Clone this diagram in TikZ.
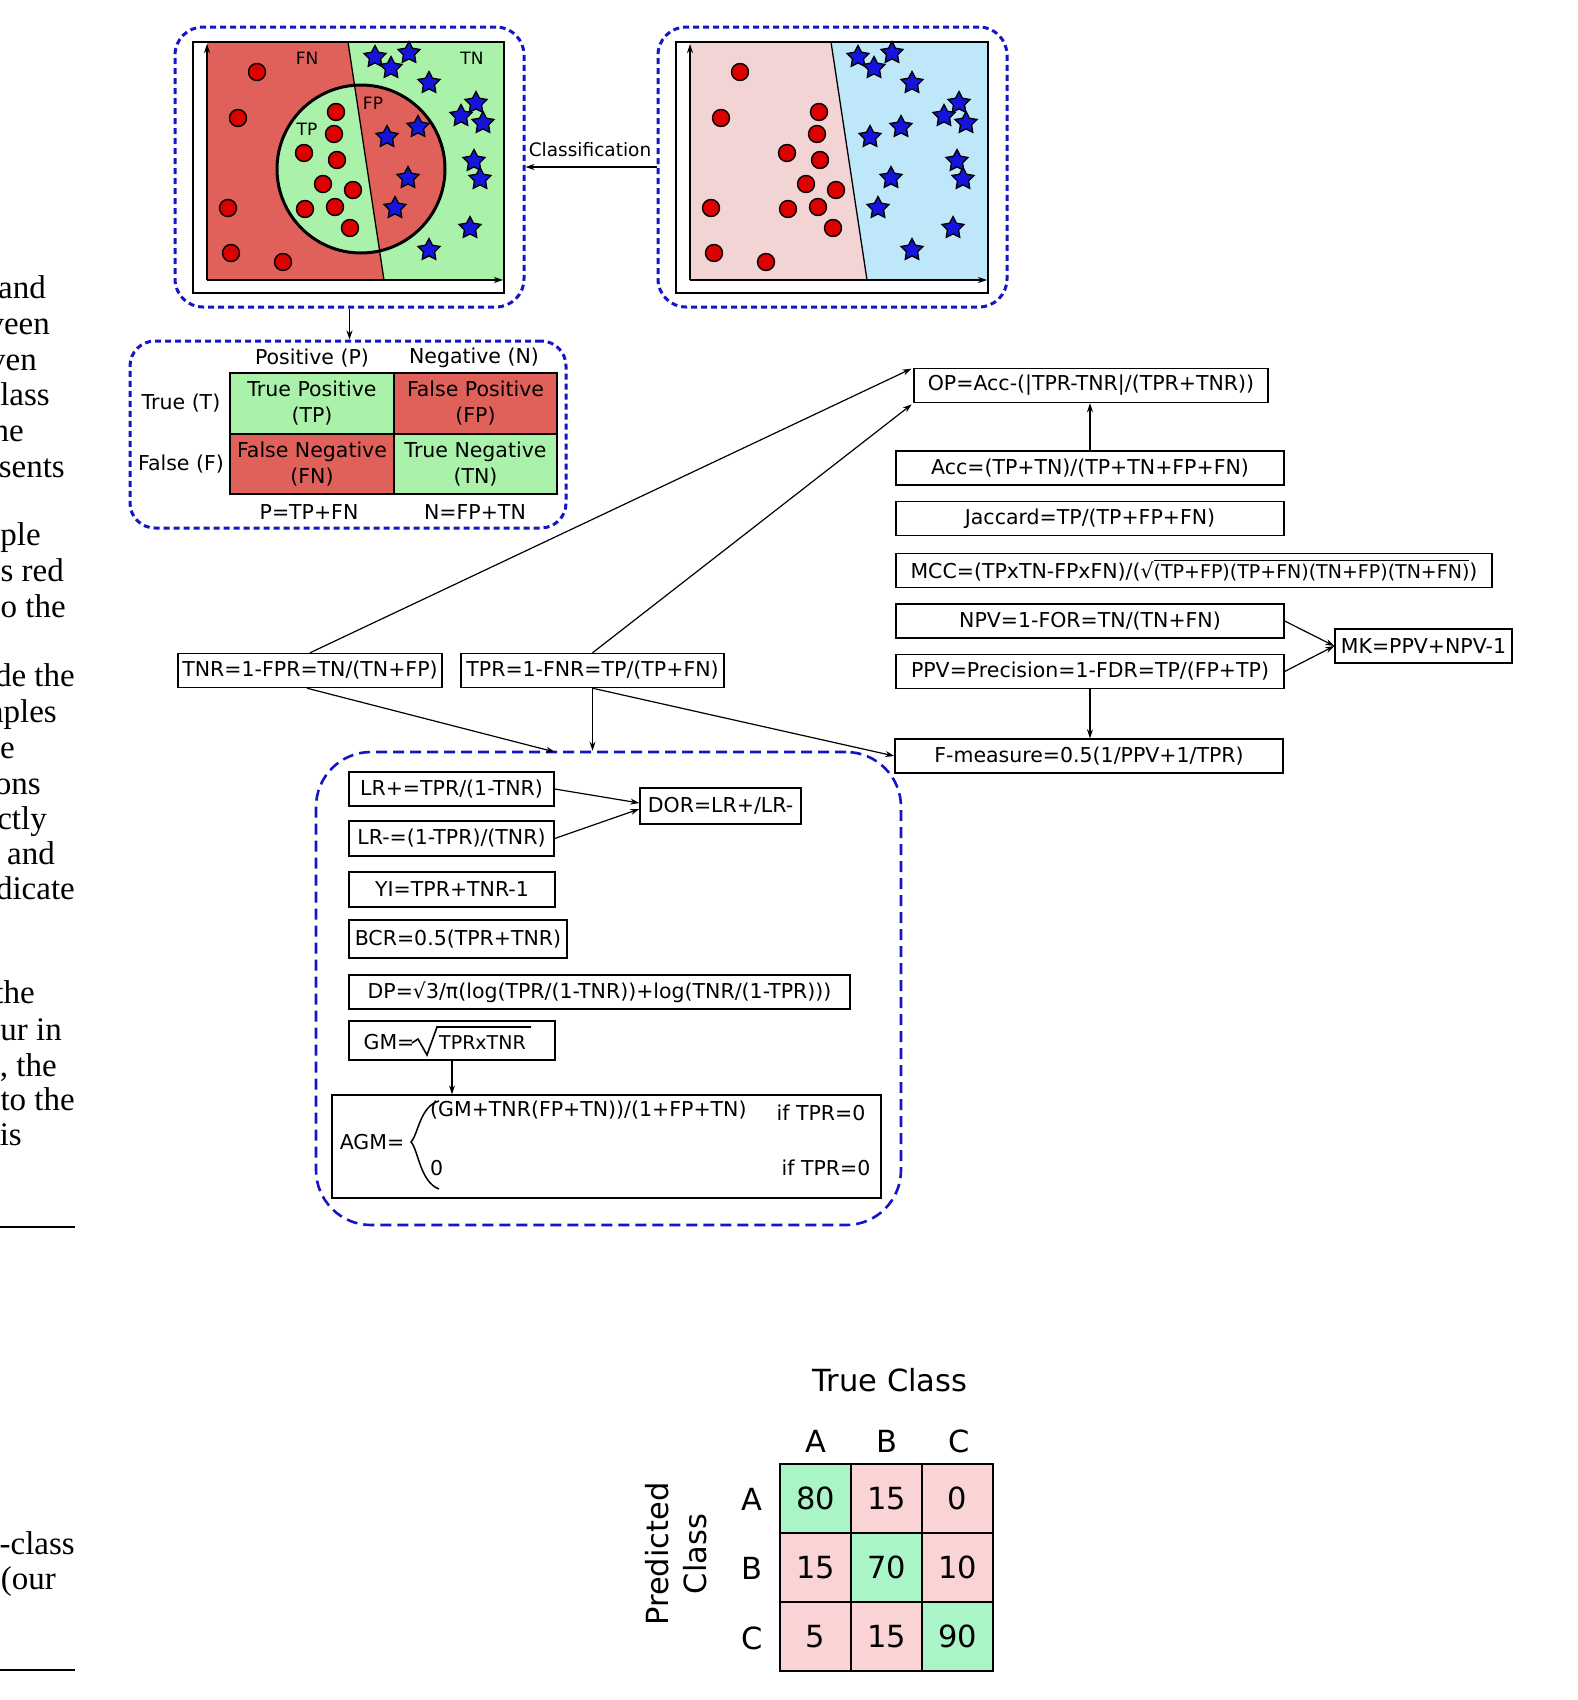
\documentclass[tikz,border=0pt]{standalone}
\usepackage{fontspec}
\setmainfont{DejaVu Sans}
\newfontfamily\marginfont{Liberation Serif}
\usetikzlibrary{shapes.geometric,arrows.meta,calc}
\definecolor{rdreg}{RGB}{224,96,90}
\definecolor{grreg}{RGB}{170,242,170}
\definecolor{pkreg}{RGB}{242,212,212}
\definecolor{blreg}{RGB}{190,232,250}
\definecolor{dotred}{RGB}{220,0,0}
\definecolor{starblue}{RGB}{20,20,220}
\definecolor{dashblue}{RGB}{20,20,200}
\definecolor{mint}{RGB}{170,245,200}
\definecolor{pinkc}{RGB}{250,212,212}
\newcommand\fsz{\fontsize{20.5}{26}\selectfont}
\newcommand\fsm{\fontsize{17}{20}\selectfont}
\newcommand\fbig{\fontsize{30.5}{38}\selectfont}
\newcommand\fmar{\marginfont\fontsize{33}{36}\selectfont}
\newcommand\ovl[1]{\setbox0\hbox{#1}\rlap{\rule[0.82em]{\wd0}{0.9pt}}\box0}
\begin{document}
\begin{tikzpicture}[x=1pt,y=-1pt,
  fbox/.style={draw=black, line width=1.4pt, inner sep=0pt, font=\fsz, minimum height=34pt},
  arr/.style={-{Stealth[length=9pt,width=6pt]}, line width=1.2pt},
  dotn/.style={circle, draw=black, line width=1.4pt, fill=dotred, minimum size=17pt, inner sep=0pt},
  starn/.style={star, star points=5, star point ratio=1.95, draw=black, line width=1.3pt, fill=starblue, minimum size=23pt, inner sep=0pt},
  lbl/.style={font=\fsz, inner sep=0pt},
  dbox/.style={draw=dashblue, line width=3pt, dash pattern=on 6pt off 4pt, rounded corners=28pt, inner sep=0pt},
  cell/.style={draw=black, line width=2pt, minimum width=163.5pt, minimum height=60.5pt, align=center, font=\fsz, inner sep=0pt},
  mcell/.style={draw=black, line width=1.3pt, minimum width=71pt, minimum height=69pt, font=\fbig, inner sep=0pt},
  mtxt/.style={font=\fmar, anchor=mid east, inner sep=0pt},
  big/.style={font=\fbig, inner sep=0pt}]
\useasboundingbox (0,0) rectangle (1578,1700);
\fill[white] (0,0) rectangle (1578,1700);

% ---------- left scatter panel ----------
\node[dbox, minimum width=349pt, minimum height=280pt] (scatL) at (349.5,167) {};
\fill[rdreg] (207,42) -- (348,42) -- (384,280) -- (207,280) -- cycle;
\fill[grreg] (348,42) -- (504,42) -- (504,280) -- (384,280) -- cycle;
\begin{scope}
  \clip (361,169) circle[radius=84];
  \fill[grreg] (207,42) -- (348,42) -- (384,280) -- (207,280) -- cycle;
  \fill[rdreg] (348,42) -- (504,42) -- (504,280) -- (384,280) -- cycle;
\end{scope}
\draw[line width=1.3] (348,42) -- (384,280);
\draw[line width=3] (361,169) circle[radius=84];
\draw[line width=2] (193,42) rectangle (504,293);
\draw[arr] (207,280) -- (207,44);
\draw[arr] (207,280) -- (503,280);
\node[font=\fsm, inner sep=0pt] (lFN) at (307,58) {FN};
\node[font=\fsm, inner sep=0pt] (lTN) at (472,58) {TN};
\node[font=\fsm, inner sep=0pt] (lTP) at (307,129) {TP};
\node[font=\fsm, inner sep=0pt] (lFP) at (373,103) {FP};

% ---------- right scatter panel ----------
\node[dbox, minimum width=349pt, minimum height=280pt] (scatR) at (832.5,167) {};
\fill[pkreg] (690,42) -- (831,42) -- (867,280) -- (690,280) -- cycle;
\fill[blreg] (831,42) -- (988,42) -- (988,280) -- (867,280) -- cycle;
\draw[line width=1.3] (831,42) -- (867,280);
\draw[line width=2] (676,42) rectangle (988,293);
\draw[arr] (690,280) -- (690,44);
\draw[arr] (690,280) -- (987,280);

% dots and stars in both panels
\foreach \sx/\nm in {0/L,483/R}{
  \foreach \px/\py [count=\i] in {257/72,238/118,228/208,231/253,283/262,336/112,334/134,304/153,337/160,323/184,353/190,305/209,335/207,350/228}{
    \node[dotn] (dot\nm\i) at (\px+\sx,\py) {};
  }
  \foreach \px/\py [count=\i] in {375/57,391/68,409/53,429/83,476/103,461/116,483/123,418/127,387/137,474/161,480/179,408/178,395/208,470/228,429/250}{
    \node[starn] (star\nm\i) at (\px+\sx,\py) {};
  }
}

\draw[arr] (scatR.west) -- (scatL.east);
\node[font=\fontsize{18.5}{22}\selectfont, inner sep=0pt] (clab) at (590,150) {Classification};

% ---------- confusion matrix ----------
\node[dbox, rounded corners=25pt, minimum width=436pt, minimum height=187pt] (CM) at (348,434.5) {};
\draw[arr] (scatL.south) -- (scatL.south |- CM.north);
\node[cell, fill=grreg] (cTP) at (312,403.5) {True Positive\\(TP)};
\node[cell, fill=rdreg] (cFP) at (475.5,403.5) {False Positive\\(FP)};
\node[cell, fill=rdreg] (cFN) at (312,464) {False Negative\\(FN)};
\node[cell, fill=grreg] (cTN) at (475.5,464) {True Negative\\(TN)};
\node[lbl] (hP) at (312,358) {Positive (P)};
\node[lbl] (hN) at (474,358) {Negative (N)};
\node[lbl] (hT) at (181,403) {True (T)};
\node[lbl] (hF) at (181,464) {False (F)};
\node[lbl] (sP) at (309,512) {P=TP+FN};
\node[lbl] (sN) at (475,512) {N=FP+TN};

% ---------- formula boxes (right column) ----------
\node[fbox, minimum width=354pt] (OP) at (1091,385.5) {OP=Acc-(|TPR-TNR|/(TPR+TNR))};
\node[fbox, minimum width=388pt] (ACC) at (1090,468) {Acc=(TP+TN)/(TP+TN+FP+FN)};
\node[fbox, minimum width=388pt] (JAC) at (1090,518.5) {Jaccard=TP/(TP+FP+FN)};
\node[fbox, minimum width=596pt] (MCC) at (1194,570.5) {MCC=(TPxTN-FPxFN)/(√\ovl{\fontsize{19}{24}\selectfont(TP+FP)(TP+FN)(TN+FP)(TN+FN)})};
\node[fbox, minimum width=388pt] (NPV) at (1090,621) {NPV=1-FOR=TN/(TN+FN)};
\node[fbox, minimum width=388pt] (PPV) at (1090,671.5) {PPV=Precision=1-FDR=TP/(FP+TP)};
\node[fbox, minimum width=177pt] (MK) at (1423.5,646) {MK=PPV+NPV-1};
\node[fbox, minimum width=388pt] (FM) at (1089,756) {F-measure=0.5(1/PPV+1/TPR)};
\node[fbox, minimum width=264pt] (TNR) at (310,670.5) {TNR=1-FPR=TN/(TN+FP)};
\node[fbox, minimum width=263pt] (TPR) at (592.5,670.5) {TPR=1-FNR=TP/(TP+FN)};

% ---------- lower dashed group ----------
\node[draw=dashblue, line width=2.6pt, dash pattern=on 11pt off 6pt, rounded corners=55pt, minimum width=585pt, minimum height=473pt, inner sep=0pt] (LOW) at (608.5,988.5) {};
\coordinate (lowA) at (555,752);
\node[fbox, minimum width=205pt] (LRP) at (451.5,789) {LR+=TPR/(1-TNR)};
\node[fbox, minimum width=205pt, minimum height=35pt] (LRM) at (451.5,838.5) {LR-=(1-TPR)/(TNR)};
\node[fbox, minimum width=161pt, minimum height=36pt] (DOR) at (720.5,806) {DOR=LR+/LR-};
\node[fbox, minimum width=206pt, minimum height=35pt] (YI) at (452,889.5) {YI=TPR+TNR-1};
\node[fbox, minimum width=218pt, minimum height=38pt] (BCR) at (458,939) {BCR=0.5(TPR+TNR)};
\node[fbox, minimum width=501pt] (DP) at (599.5,992) {DP=√3/π(log(TPR/(1-TNR))+log(TNR/(1-TPR)))};
\node[fbox, minimum width=206pt, minimum height=39pt] (GM) at (452,1040.5) {};
\node[lbl] (gmlab) at (389,1042) {GM=};
\node[font=\fontsize{19}{24}\selectfont, inner sep=0pt, anchor=west] (gmrad) at (439,1043) {TPRxTNR};
\draw[line width=1.6, line join=miter] (412,1043) -- (418,1039) -- (427,1055) -- (437,1027) -- (531,1027);
\node[fbox, minimum width=549pt, minimum height=103pt] (AGM) at (606.5,1146.5) {};
\node[lbl] (agmlab) at (372,1142) {AGM=};
\node[lbl, anchor=west] (agm1) at (430,1110) {(GM+TNR(FP+TN))/(1+FP+TN)};
\node[lbl] (agm2) at (821,1113) {if TPR=0};
\node[lbl, anchor=west] (agm3) at (430,1168) {0};
\node[lbl] (agm4) at (826,1168) {if TPR=0};
\draw[line width=1.5] (439,1101) .. controls (420,1106) and (418,1135) .. (411,1142) .. controls (418,1149) and (420,1182) .. (439,1189);

% ---------- connectors ----------
\draw[arr, shorten >=2pt] (TNR.north) -- (OP.north west);
\draw[arr, shorten >=2pt] (TPR.north) -- (OP.south west);
\draw[arr] (ACC.north) -- (ACC.north |- OP.south);
\draw[arr] (NPV.east) -- (MK.west);
\draw[arr] (PPV.east) -- (MK.west);
\draw[arr] (PPV.south) -- (PPV.south |- FM.north);
\draw[arr] (TPR.south) -- (FM.west);
\draw[arr] ([xshift=-3pt]TNR.south) -- (lowA);
\draw[arr] (TPR.south) -- (TPR.south |- LOW.north);
\draw[arr] (LRP.east) -- ([yshift=3pt]DOR.west);
\draw[arr] (LRM.east) -- ([yshift=-3pt]DOR.west);
\draw[arr] (GM.south) -- (GM.south |- AGM.north);

% ---------- multi-class matrix ----------
\node[mcell, fill=mint]  (m11) at (815.5,1498.5) {80};
\node[mcell, fill=pinkc] (m12) at (886.5,1498.5) {15};
\node[mcell, fill=pinkc] (m13) at (957.5,1498.5) {0};
\node[mcell, fill=pinkc] (m21) at (815.5,1567.5) {15};
\node[mcell, fill=mint]  (m22) at (886.5,1567.5) {70};
\node[mcell, fill=pinkc] (m23) at (957.5,1567.5) {10};
\node[mcell, fill=pinkc] (m31) at (815.5,1636.5) {5};
\node[mcell, fill=pinkc] (m32) at (886.5,1636.5) {15};
\node[mcell, fill=mint]  (m33) at (957.5,1636.5) {90};
\node[big] (trueclass) at (890,1380) {True Class};
\node[big] (cA) at (816,1441) {A};
\node[big] (cB) at (887,1441) {B};
\node[big] (cC) at (959,1441) {C};
\node[big] (rA) at (752,1499) {A};
\node[big] (rB) at (752,1568) {B};
\node[big] (rC) at (752,1638) {C};
\node[big, rotate=90, align=center] (predclass) at (676,1554) {Predicted\\Class};

% ---------- clipped margin text ----------
\node[mtxt] (t1) at (46,296) {and};
\node[mtxt] (t2) at (50,332) {veen};
\node[mtxt] (t3) at (37,368) {ven};
\node[mtxt] (t4) at (50,403) {lass};
\node[mtxt] (t5) at (24,439) {ne};
\node[mtxt] (t6) at (65,475) {sents};
\node[mtxt] (t7) at (41,543) {ple};
\node[mtxt] (t8) at (64,579) {s red};
\node[mtxt] (t9) at (66,615) {o the};
\node[mtxt] (t10) at (75,684) {de the};
\node[mtxt] (t11) at (57,720) {nples};
\node[mtxt] (t12) at (15,756) {e};
\node[mtxt] (t13) at (41,792) {ons};
\node[mtxt] (t14) at (47,827) {ctly};
\node[mtxt] (t15) at (55,862) {and};
\node[mtxt] (t16) at (75,897) {dicate};
\node[mtxt] (t17) at (35,1001) {the};
\node[mtxt] (t18) at (62,1038) {ur in};
\node[mtxt] (t19) at (57,1074) {, the};
\node[mtxt] (t20) at (75,1108) {to the};
\node[mtxt] (t21) at (22,1143) {is};
\node[mtxt] (t22) at (75,1552) {-class};
\node[mtxt] (t23) at (56,1587) {(our};
\draw[line width=2] (0,1227) -- (75,1227);
\draw[line width=2] (0,1670) -- (75,1670);
\end{tikzpicture}
\end{document}
